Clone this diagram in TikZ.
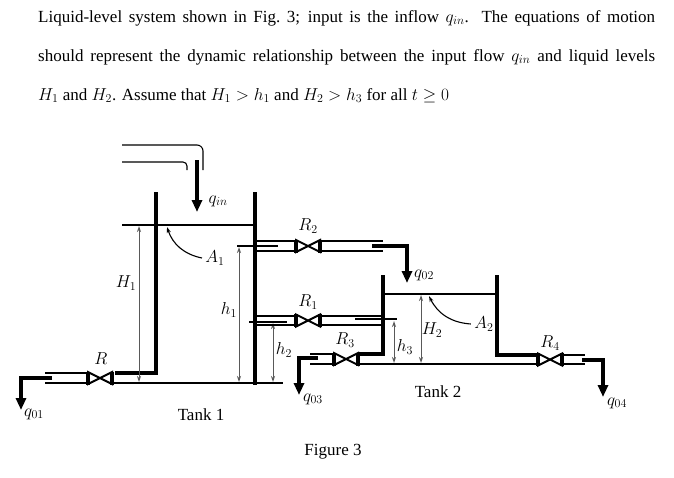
\documentclass[tikz,border=0pt]{standalone}
\usepackage{fontspec}
\setmainfont{Liberation Serif}
\usetikzlibrary{arrows.meta}
\begin{document}
\begin{tikzpicture}[x=1pt,y=-1pt,
  pipe/.style={line width=2.3pt},
  wall/.style={line width=3.5pt},
  twall/.style={line width=4.5pt},
  flow/.style={line width=3.4pt,-{Triangle[length=12pt,width=10pt]}},
  dim/.style={gray!70!black,line width=0.7pt,{Stealth[length=6pt,width=4pt,open]}-{Stealth[length=6pt,width=4pt,open]}},
  thin/.style={line width=1.1pt},
  lbl/.style={font=\fontsize{17}{17}\selectfont},
  valve/.pic={\draw[line width=2pt] (0,-6)--(0,6)--(12,0)--cycle (24,-6)--(24,6)--(12,0)--cycle;
              \draw[line width=3.5pt] (0,-6.5)--(0,6.5) (24,-6.5)--(24,6.5);}]
\useasboundingbox (0,0) rectangle (674,477);
% text
\node[anchor=north west,inner sep=0pt,align=justify,text width=617pt,font=\fontsize{17}{39}\selectfont] (txt) at (38,10)
{Liquid-level system shown in Fig.~3; input is the inflow $q_{in}$. The equations of motion\linebreak should represent the dynamic relationship between the input flow $q_{in}$ and liquid levels\linebreak $H_1$ and $H_2$. Assume that $H_1>h_1$ and $H_2>h_3$ for all $t\geq 0$\par};
% inflow pipe
\draw[thin] (122,145)--(197,145) to[out=0,in=90] (203,151)--(203,170);
\draw[thin] (122,162)--(183,162) to[out=0,in=90] (187,166)--(187,170);
\coordinate (qinS) at (197,160); \coordinate (qinE) at (197,212);
\draw[flow] (qinS)--(qinE);
\node[lbl,anchor=west] (qin) at (205,201) {$q_{in}$};
% tank 1
\draw[wall] (156,192)--(156,373)--(115,373);
\draw[twall] (255,192)--(255,385);
\draw[pipe] (112,383)--(255,383);
\draw[pipe] (45,373)--(88,373) (45,383)--(88,383);
\pic at (88,378) {valve};
\node[lbl] (R) at (101,359) {$R$};
\draw[flow] (52,378)--(21,378)--(21,410);
\node[lbl] (q01) at (34,414) {$q_{01}$};
\draw[thin] (122,225)--(255,225);
\node[lbl] (A1) at (215,258) {$A_1$};
\draw[thin,-{Stealth[length=6pt,width=4pt,open]}] (A1.west) to[bend left=30] (167,227);
\draw[dim] (139,226)--(139,382);
\node[lbl] (H1) at (126,283) {$H_1$};
\draw[thin] (237,246)--(278,246);
\draw[dim] (239,247)--(239,382);
\node[lbl] (h1) at (229,310) {$h_1$};
\draw[thin] (249,322)--(287,322) (255,383)--(283,383);
\draw[dim] (273,323)--(273,382);
\node[lbl] (h2) at (284,350) {$h_2$};
% R2 pipe
\draw[pipe] (257,241)--(296,241) (320,241)--(383,241);
\draw[pipe] (257,251)--(296,251) (320,251)--(383,251);
\pic at (296,246) {valve};
\node[lbl] (R2) at (308,226) {$R_2$};
\draw[flow] (372,246)--(407,246)--(407,283);
\node[lbl] (q02) at (424,275) {$q_{02}$};
% R1 pipe
\draw[pipe] (257,316)--(296,316) (320,316)--(382,316);
\draw[pipe] (257,325)--(296,325) (320,325)--(382,325);
\pic at (296,320.5) {valve};
\node[lbl] (R1) at (308,302) {$R_1$};
\draw[thin] (355,319)--(397,319);
% tank 2
\draw[wall] (383,275)--(383,354)--(358,354);
\draw[wall] (497,275)--(497,355)--(538,355);
\draw[pipe] (358,364)--(538,364);
\draw[thin] (383,294)--(497,294);
\pic at (334,359) {valve};
\draw[pipe] (310,354)--(334,354) (310,364)--(334,364);
\draw[flow] (318,358)--(299,358)--(299,395);
\node[lbl] (q03) at (313,399) {$q_{03}$};
\node[lbl] (R3) at (345,340) {$R_3$};
\pic at (538,359.5) {valve};
\draw[pipe] (562,355)--(585,355) (562,364)--(585,364);
\draw[flow] (582,360)--(603,360)--(603,397);
\node[lbl] (q04) at (617,403) {$q_{04}$};
\node[lbl] (R4) at (550,343) {$R_4$};
\draw[dim] (421,295)--(421,363);
\node[lbl] (H2) at (432,330) {$H_2$};
\node[lbl] (A2) at (484,324) {$A_2$};
\draw[thin,-{Stealth[length=6pt,width=4pt,open]}] (A2.west) to[bend left=30] (429,296);
\draw[dim] (394,321)--(394,363);
\node[lbl] (h3) at (405,347) {$h_3$};
% captions
\node[lbl] (t1) at (201,415) {Tank 1};
\node[lbl] (t2) at (438,392) {Tank 2};
\node[lbl] (fig) at (333,452) {Figure 3};
\end{tikzpicture}
\end{document}
